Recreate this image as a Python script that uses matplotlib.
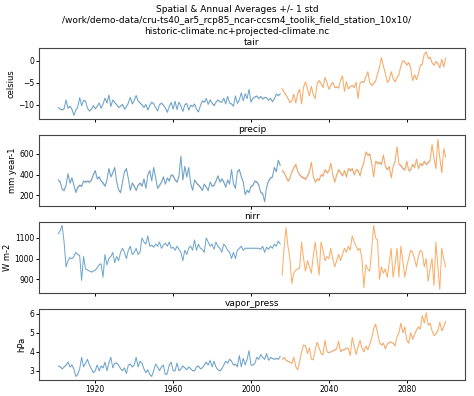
import matplotlib
matplotlib.use("Agg")
import matplotlib.pyplot as plt
from matplotlib.ticker import MultipleLocator
import numpy as np

# years: historic run and projected run
hist_years = list(range(1901, 2016))
proj_years = list(range(2016, 2101))

# tair (celsius)
tair_hist = [
    -10.6, -11.0, -11.1, -10.9, -8.9, -10.8, -10.3, -11.0, -12.4, -11.2,
    -10.5, -8.4, -10.2, -9.0, -9.2, -10.8, -11.4, -11.0, -10.2, -10.9,
    -10.3, -9.6, -10.8, -9.8, -8.5, -9.6, -7.8, -10.4, -8.9, -9.5,
    -10.0, -10.6, -10.3, -9.9, -11.0, -10.4, -9.6, -8.3, -9.8, -9.0,
    -7.9, -9.1, -9.6, -10.0, -10.6, -9.9, -11.2, -10.1, -9.4, -9.8,
    -10.6, -11.4, -10.0, -9.6, -10.1, -10.7, -11.7, -10.4, -9.5, -11.0,
    -9.2, -11.1, -9.4, -10.3, -11.5, -10.0, -9.7, -11.2, -10.1, -10.4,
    -9.8, -11.0, -11.6, -10.2, -9.1, -9.4, -8.6, -9.9, -8.9, -9.6,
    -10.2, -9.4, -8.9, -9.3, -9.4, -8.5, -9.8, -8.1, -9.6, -9.8,
    -10.3, -8.0, -9.7, -8.9, -7.3, -9.1, -7.5, -8.6, -6.5, -9.4,
    -8.5, -8.2, -8.0, -8.6, -8.1, -8.7, -8.3, -8.4, -9.0, -8.5,
    -9.3, -8.6, -7.6, -7.9, -7.5,
]
tair_proj = [
    -6.3, -7.2, -7.8, -8.6, -9.5, -9.0, -7.6, -9.6, -7.4, -6.5,
    -9.8, -6.0, -4.8, -6.4, -8.0, -5.8, -7.8, -8.6, -5.2, -4.5,
    -5.2, -6.1, -3.8, -5.0, -6.5, -5.5, -4.9, -6.1, -5.9, -6.2,
    -4.4, -3.5, -7.0, -4.8, -6.4, -5.8, -5.6, -6.1, -4.9, -8.6,
    -5.1, -4.7, -4.9, -3.6, -2.5, -5.0, -5.6, -5.1, -4.6, -3.0,
    -1.4, 0.7, -1.2, -2.9, -4.9, -4.3, -2.5, -4.1, -4.8, -3.8,
    -3.1, -1.2, 0.0, -0.2, -1.0, -0.4, -1.6, -4.5, -3.2, -4.3,
    -3.0, -1.0, -0.8, 1.5, 2.0, 0.5, 0.8, -0.5, -1.0, -0.2,
    -0.6, -1.6, 0.3, -1.4, 0.6,
]

# precip (mm year-1)
precip_hist = [
    350, 330, 260, 250, 300, 410, 320, 370, 300, 230,
    280, 300, 290, 340, 330, 340, 330, 350, 400, 440,
    360, 380, 340, 320, 290, 350, 460, 380, 420, 470,
    330, 250, 230, 330, 430, 460, 360, 250, 320, 290,
    250, 300, 320, 290, 360, 270, 400, 440, 340, 470,
    370, 270, 300, 330, 380, 310, 370, 340, 400, 390,
    350, 330, 390, 580, 350, 480, 380, 470, 320, 250,
    350, 320, 300, 280, 250, 310, 280, 250, 330, 290,
    300, 340, 390, 330, 360, 330, 280, 350, 310, 450,
    310, 270, 430, 450, 380, 330, 210, 250, 230, 290,
    300, 340, 330, 300, 230, 220, 140, 280, 340, 370,
    380, 470, 430, 540, 490,
]
precip_proj = [
    440, 420, 380, 340, 370, 430, 470, 500, 430, 400,
    380, 370, 360, 390, 430, 520, 380, 330, 360, 350,
    400, 390, 450, 420, 440, 510, 400, 330, 400, 450,
    420, 390, 440, 380, 460, 440, 460, 400, 450, 440,
    390, 470, 520, 620, 590, 600, 510, 380, 530, 510,
    520, 500, 590, 480, 450, 480, 370, 480, 530, 670,
    500, 490, 460, 450, 530, 440, 450, 500, 470, 550,
    460, 510, 490, 530, 500, 520, 540, 690, 560, 460,
    740, 560, 420, 650, 570,
]

# nirr (W m-2)
nirr_hist = [
    1120, 1135, 1160, 1080, 960, 990, 1005, 1000, 1010, 1030,
    1020, 1015, 895, 1010, 950, 945, 940, 935, 940, 945,
    955, 970, 975, 910, 1020, 970, 1000, 1010, 1030, 980,
    1010, 990, 1030, 1050, 1030, 1000, 1040, 1060, 1020, 1030,
    1050, 1020, 1030, 1100, 1080, 1070, 1110, 1060, 1065, 1055,
    1070, 1060, 1080, 1050, 1065, 1075, 1060, 1080, 1050, 1055,
    1040, 1060, 1045, 1030, 990, 1040, 1020, 1050, 1060, 1040,
    1090, 1040, 1070, 1050, 1045, 1030, 1100, 1080, 1060, 1070,
    1045, 1080, 1060, 1050, 1030, 1070, 1060, 1040, 1030, 1000,
    1030, 1000, 1040, 1050, 1060, 1040, 1050, 1050, 1050, 1050,
    1050, 1050, 1050, 1050, 1045, 1060, 1030, 1055, 1045, 1060,
    1050, 1070, 1060, 1085, 1070,
]
nirr_proj = [
    920, 1050, 1150, 1060, 1000, 880, 930, 945, 950, 955,
    1080, 1000, 940, 990, 960, 930, 1010, 1080, 1000, 920,
    1080, 1040, 990, 1010, 1000, 1050, 1000, 960, 990, 1020,
    990, 1020, 1050, 1030, 1060, 1040, 1110, 1080, 1060, 1040,
    1050, 1000, 860, 970, 950, 940, 1040, 1160, 1100, 1090,
    900, 960, 930, 950, 910, 980, 1050, 910, 970, 1050,
    910, 1060, 990, 910, 960, 1000, 1040, 1030, 1000, 960,
    1010, 1040, 1030, 960, 1000, 890, 950, 1000, 870, 1080,
    960, 850, 1050, 1000, 960,
]

# vapor_press (hPa)
vapor_hist = [
    3.25, 3.2, 3.1, 3.2, 3.3, 3.45, 3.2, 3.3, 3.1, 2.7,
    2.8, 3.1, 3.7, 3.2, 3.4, 3.6, 3.3, 3.1, 2.9, 3.0,
    3.3, 3.0, 3.25, 3.15, 3.45, 3.0, 3.4, 3.7, 3.15, 3.4,
    3.4, 3.3, 3.1, 3.0, 3.15, 2.85, 3.3, 3.35, 3.2, 3.3,
    3.7, 3.2, 3.5, 3.4, 3.1, 2.9, 3.05, 2.8, 2.7, 3.0,
    3.35, 3.2, 3.0, 3.2, 3.3, 2.8, 2.85, 3.3, 3.45, 3.0,
    3.0, 3.4, 3.0, 3.1, 3.25, 3.15, 3.05, 3.2, 3.1, 3.0,
    3.0, 3.2, 3.25, 3.1, 3.15, 3.3, 3.45, 3.3, 3.55, 3.2,
    3.5, 3.2, 3.05, 3.0, 3.1, 3.3, 3.5, 3.4, 3.6, 3.5,
    3.3, 3.35, 3.2, 3.8, 3.2, 3.65, 3.3, 3.6, 4.05, 3.3,
    3.3, 3.4, 3.7, 3.6, 3.85, 3.7, 3.6, 3.9, 3.55, 3.7,
    3.65, 3.6, 3.65, 3.6, 3.75,
]
vapor_proj = [
    3.6, 3.7, 3.55, 3.5, 3.45, 3.4, 3.7, 3.2, 3.05, 3.5,
    4.0, 4.35, 4.3, 3.9, 4.2, 3.6, 3.6, 4.1, 4.5, 4.2,
    3.9, 3.85, 4.6, 4.0, 3.95, 4.0, 4.05, 4.1, 4.15, 4.55,
    4.0, 4.1, 4.1, 4.2, 4.15, 3.8, 4.75, 4.3, 3.85, 4.25,
    4.6, 4.2, 4.0, 4.3, 4.1, 4.4, 4.7, 5.2, 5.45, 5.0,
    4.5, 4.35, 4.45, 4.15, 4.4, 4.5, 4.5, 4.45, 4.3, 4.8,
    5.0, 5.5, 5.0, 5.3, 4.6, 4.45, 5.0, 4.65, 4.9, 5.15,
    5.3, 5.2, 5.9, 5.5, 6.05, 5.4, 5.5, 5.1, 4.85, 4.95,
    5.1, 5.55, 5.1, 5.3, 5.6,
]

# spatial std (roughly constant, only a thin band is visible)
variables = ["tair", "precip", "nirr", "vapor_press"]
units = ["celsius", "mm year-1", "W m-2", "hPa"]
spatial_std = [0.15, 12.0, 1.5, 0.03]

title = ("Spatial & Annual Averages +/- 1 std\n"
         "/work/demo-data/cru-ts40_ar5_rcp85_ncar-ccsm4_toolik_field_station_10x10/\n"
         "historic-climate.nc+projected-climate.nc")


def main() -> None:
    plt.rcParams["font.family"] = ["DejaVu Sans"]
    plt.rcParams["font.size"] = 5.5

    hist_data = [tair_hist, precip_hist, nirr_hist, vapor_hist]
    proj_data = [tair_proj, precip_proj, nirr_proj, vapor_proj]

    fig, axes = plt.subplots(4, 1, figsize=(4.74, 3.96), dpi=100, sharex=True)
    for ax, name, unit, std, h, p in zip(axes, variables, units, spatial_std, hist_data, proj_data):
        for yrs, vals, color in ((hist_years, h, "tab:blue"), (proj_years, p, "tab:orange")):
            vals = np.asarray(vals, dtype=float)
            ax.fill_between(yrs, vals - std, vals + std, color="gray", alpha=0.3, lw=0)
            ax.plot(yrs, vals, color=color, lw=0.7, alpha=0.65)
        ax.set_title(name, fontsize=6.5, pad=2)
        ax.set_ylabel(unit, fontsize=6, labelpad=2)
        ax.tick_params(labelsize=5.5, length=2.5, width=0.7, pad=1)
        for spine in ax.spines.values():
            spine.set_color("#444444")

    axes[-1].xaxis.set_major_locator(MultipleLocator(40))
    fig.suptitle(title, fontsize=6.5, y=0.988, linespacing=1.3)
    fig.subplots_adjust(left=0.082, right=0.981, top=0.879, bottom=0.040, hspace=0.22)
    fig.savefig("out.png", dpi=100)


if __name__ == "__main__":
    main()
